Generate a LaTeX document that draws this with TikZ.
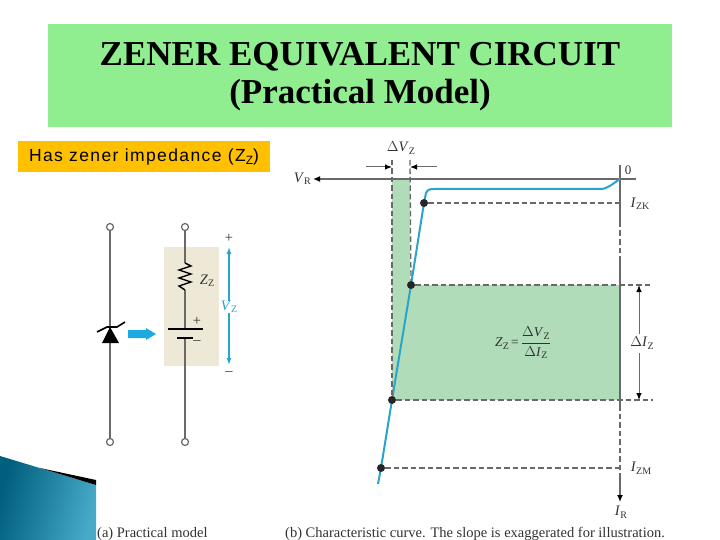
\documentclass[tikz,border=0pt]{standalone}
\usepackage{amsmath}
\usepackage{fontspec}
\setmainfont{Liberation Serif}
\newfontfamily\labelfont[LetterSpace=8]{Liberation Sans}
\usetikzlibrary{positioning,arrows.meta}
\definecolor{titlegreen}{RGB}{144,238,144}
\definecolor{labelorange}{RGB}{255,192,0}
\definecolor{shadegreen}{RGB}{176,220,186}
\definecolor{beige}{RGB}{238,232,214}
\definecolor{curveblue}{RGB}{40,165,200}
\definecolor{arrowblue}{RGB}{30,170,225}
\definecolor{axisgray}{RGB}{105,105,105}
\definecolor{texgray}{RGB}{50,50,50}
\definecolor{cornerdark}{RGB}{0,95,125}
\definecolor{cornerlight}{RGB}{70,170,200}
\newcommand{\sublabel}[2]{\textit{#1}\raisebox{-2.5pt}{\fontsize{10}{10}\selectfont #2}}
\begin{document}
\begin{tikzpicture}[x=1pt,y=-1pt,
  every node/.style = {inner sep=0pt, text=texgray, font=\fontsize{14.5}{15}\selectfont},
  wire/.style = {draw=axisgray, line width=1.5pt},
  dashline/.style = {draw=axisgray, line width=1.3pt, dash pattern=on 5.5pt off 3pt},
  dimline/.style = {draw=axisgray, line width=1pt, -{Latex[length=7pt,width=5.5pt,black]}},
  voltline/.style = {draw=curveblue, line width=1.3pt, -{Latex[length=7pt,width=5pt]}},
  terminal/.style = {circle, draw=axisgray, fill=white, line width=1.2pt, minimum size=7pt},
  pointdot/.style = {circle, fill=black!85, minimum size=8pt}
  ]
  \useasboundingbox (0,0) rectangle (720,540);
  % title and label
  \fill[titlegreen] (48,24) rectangle (672,127);
  \node[align=center, text=black, font=\fontsize{35}{38}\selectfont\bfseries] (title) at (360,77)
    {ZENER EQUIVALENT CIRCUIT\\(Practical Model)};
  \node[minimum width=252pt, minimum height=31pt, fill=labelorange, text=black,
    font=\labelfont\fontsize{17.5}{20}\selectfont] (haslabel) at (144,156.5)
    {Has zener impedance (Z\raisebox{-3pt}{\fontsize{12}{12}\selectfont Z})};
  % corner
  \shade[left color=cornerdark, right color=cornerlight, shading angle=75] (0,456) -- (96,485) -- (96,540) -- (0,540) -- cycle;
  \fill[black] (40,468) -- (96,480) -- (96,485) -- cycle;
  % circuit
  \fill[beige] (164,247) rectangle (219,366);
  \node[terminal] (t1) at (110,227) {};
  \node[terminal] (b1) at (110,442) {};
  \node[terminal] (t2) at (185,227) {};
  \node[terminal] (b2) at (185,442) {};
  \coordinate (rtop) at (185,263);
  \coordinate (rbot) at (185,290);
  \coordinate (pl1) at (185,329);
  \coordinate (pl2) at (185,338);
  \draw[wire] (t1) -- (b1);
  \draw[wire] (t2) -- (rtop);
  \draw[wire] (rbot) -- (pl1);
  \draw[wire] (pl2) -- (b2);
  \draw[black, line width=1.4pt] (rtop) -- ++(6,3) -- ++(-12,4) -- ++(12,4) -- ++(-12,4) -- ++(12,4) -- ++(-12,4) -- (rbot);
  \draw[black, line width=1.8pt] (168,329) -- (203,329);
  \draw[black, line width=1.8pt] (177,338) -- (193,338);
  \node (zzlabel) at (207,281) {\sublabel{Z}{Z}};
  \node (plusb) at (197,321) {+};
  \node (minusb) at (197,343) {--};
  % diode
  \fill[black] (110,327) -- (119,343) -- (102,343) -- cycle;
  \draw[black, line width=1.6pt] (97,332) -- (107,327) -- (117,327) -- (125,322);
  \fill[arrowblue] (128,330) -- (146,330) -- (146,328) -- (156,334) -- (146,340) -- (146,338) -- (128,338) -- cycle;
  % voltage
  \node[text=curveblue] (vz) at (229,307) {\sublabel{V}{Z}};
  \node (vplus) at (229,238) {+};
  \node (vminus) at (229,374) {--};
  \draw[voltline] (vz.north) -- (229,247);
  \draw[voltline] (vz.south) -- (229,365);
  % characteristic
  \fill[shadegreen] (392,179) -- (410,179) -- (410,285) -- (620,285) -- (620,400) -- (392,400) -- cycle;
  \coordinate (knee) at (424,203);
  \coordinate (midtop) at (411,285);
  \coordinate (midbot) at (392,400);
  \coordinate (maxpt) at (381,468);
  \coordinate (origin) at (620,179);
  \coordinate (axleft) at (313,179);
  \coordinate (axright) at (636,179);
  \draw[wire, -{Latex[length=7pt,width=6pt,black]}] (axright) -- (axleft);
  \node[left=2pt of axleft] (vr) {\sublabel{V}{R}};
  \draw[wire] (620,165) -- (620,222);
  \draw[dashline] (620,222) -- (620,258);
  \draw[wire] (620,258) -- (620,405);
  \draw[dashline] (620,405) -- (620,473);
  \draw[wire, -{Latex[length=7pt,width=6pt,black]}] (620,473) -- (620,502);
  \draw[curveblue, line width=2pt] (378,484) -- (maxpt) -- (midbot) -- (midtop) -- (knee) -- (426,193) .. controls (428,189) and (430,189) .. (435,189) -- (600,189) .. controls (608,189) and (612,184) .. (origin);
  \node[pointdot] (p1) at (knee) {};
  \node[pointdot] (p2) at (midtop) {};
  \node[pointdot] (p3) at (midbot) {};
  \node[pointdot] (p4) at (maxpt) {};
  \draw[dashline] (p1) -- (620,203);
  \draw[dashline] (p2) -- (653,285);
  \draw[dashline] (p3) -- (653,400);
  \draw[dashline] (p4) -- (620,468);
  \draw[dashline] (392,160) -- (p3);
  \draw[dashline] (410,160) -- (p2);
  % dimensions
  \draw[dimline] (366,167) -- (392,167);
  \draw[dimline] (437,167) -- (410,167);
  \node (dv) at (401,148) {$\Delta$\sublabel{V}{Z}};
  \node (di) at (642,343) {$\Delta$\sublabel{I}{Z}};
  \coordinate (digaptop) at (639,334);
  \coordinate (digapbot) at (639,353);
  \draw[dimline] (digaptop) -- (639,285);
  \draw[dimline] (digapbot) -- (639,400);
  \node (zero) at (628,170) {\fontsize{13}{13}\selectfont 0};
  \node (izk) at (640,204) {\sublabel{I}{ZK}};
  \node (izm) at (641,468) {\sublabel{I}{ZM}};
  \node (ir) at (621,512) {\sublabel{I}{R}};
  \node (formula) at (523,343) {\fontsize{13.5}{14}\selectfont \sublabel{Z}{Z}\,=\,$\dfrac{\text{$\Delta$\sublabel{V}{Z}}}{\text{$\Delta$\sublabel{I}{Z}}}$};
  % captions
  \node[anchor=west] (capa) at (97,534) {(a) Practical model};
  \node[anchor=west] (capb) at (285,534) {(b) Characteristic curve. The slope is exaggerated for illustration.};
\end{tikzpicture}
\end{document}
